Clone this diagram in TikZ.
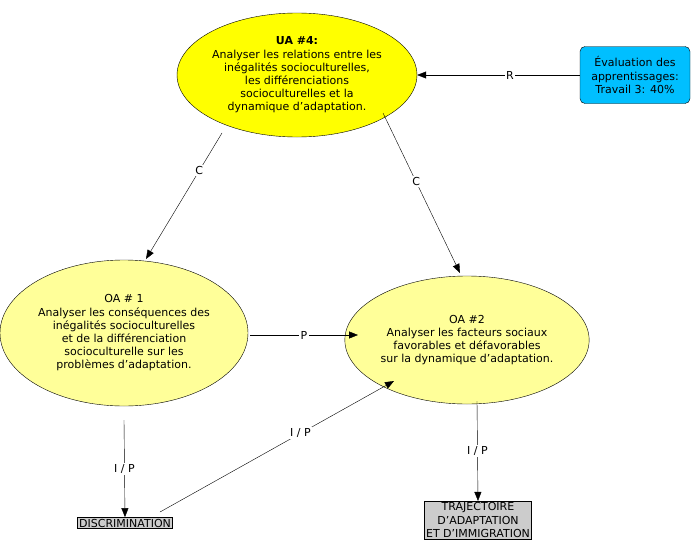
\documentclass[tikz,border=0pt]{standalone}
\usepackage{fontspec}
\setmainfont{DejaVu Sans}
\usetikzlibrary{arrows.meta,shapes.geometric}
\definecolor{uaYellow}{RGB}{255,255,0}
\definecolor{oaYellow}{RGB}{255,255,153}
\definecolor{evalBlue}{RGB}{0,191,255}
\definecolor{boxGray}{RGB}{204,204,204}
\begin{document}
\begin{tikzpicture}[x=1pt,y=-1pt,font=\fontsize{11}{13.2}\selectfont,
    goal/.style={ellipse,draw,align=center,inner sep=0pt},
    box/.style={draw,fill=boxGray,align=center,inner sep=1.5pt},
    link/.style={-{Triangle[length=9pt,width=7pt]}},
    lab/.style={fill=white,inner sep=1.5pt}]
    \useasboundingbox (0,0) rectangle (696,546);

    \node[goal,fill=uaYellow,minimum width=224pt,minimum height=124pt] (ua) at (297,75)
      {\textbf{UA \#4:}\\Analyser les relations entre les\\inégalités socioculturelles,\\les différenciations\\socioculturelles et la\\dynamique d'adaptation.};
    \node[draw,rounded corners=5pt,fill=evalBlue,align=center,minimum width=110pt,minimum height=57pt] (eval) at (635,75)
      {Évaluation des\\apprentissages:\\Travail 3: 40\%};
    \node[goal,fill=oaYellow,minimum width=248pt,minimum height=146pt] (oa1) at (124,333)
      {OA \# 1\\Analyser les conséquences des\\inégalités socioculturelles\\et de la différenciation\\socioculturelle sur les\\problèmes d'adaptation.};
    \node[goal,fill=oaYellow,minimum width=212pt,minimum height=128pt] (oa2) at (467,340)
      {OA \#2\\Analyser les facteurs sociaux\\favorables et défavorables\\sur la dynamique d'adaptation.};
    \node[box] (disc) at (125,523) {DISCRIMINATION};
    \node[box] (traj) at (478,520) {TRAJECTOIRE\\D'ADAPTATION\\ET D'IMMIGRATION};

    % connectors
    \draw[link] (eval.west) -- (ua.east) node[lab,pos=0.43] {R};
    \draw[link] (222,133) -- (146,259) node[lab,pos=0.3] {C};
    \draw[link] (383,113) -- (460,273) node[lab,pos=0.43] {C};
    \draw[link] (250,335) -- (358,335) node[lab,midway] {P};
    \draw[link] (124,420) -- (disc.north) node[lab,pos=0.5] {I / P};
    \draw[link] (160,512) -- (394,381) node[lab,pos=0.6] {I / P};
    \draw[link] (477,401) -- (traj.north) node[lab,pos=0.5] {I / P};
\end{tikzpicture}
\end{document}
